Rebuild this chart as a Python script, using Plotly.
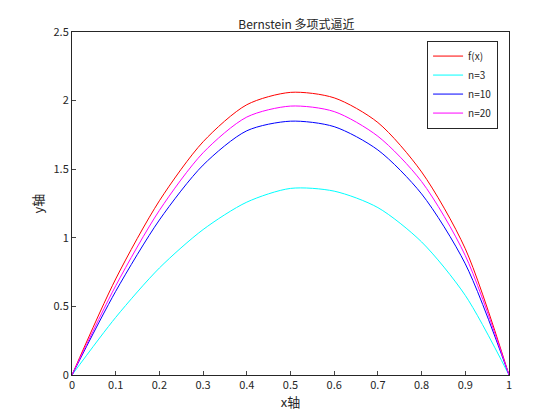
import plotly.graph_objects as go

x = [0, 0.1, 0.2, 0.3, 0.4, 0.5, 0.6, 0.7, 0.8, 0.9, 1.0]
f_x = [0, 0.70, 1.27, 1.70, 1.97, 2.06, 2.02, 1.84, 1.48, 0.92, 0]
n3 = [0, 0.42, 0.78, 1.06, 1.26, 1.36, 1.34, 1.22, 0.97, 0.58, 0]
n10 = [0, 0.61, 1.13, 1.53, 1.78, 1.85, 1.81, 1.64, 1.32, 0.81, 0]
n20 = [0, 0.65, 1.20, 1.62, 1.88, 1.96, 1.92, 1.74, 1.41, 0.87, 0]

series = [("f(x)", f_x, "red"), ("n=3", n3, "cyan"),
          ("n=10", n10, "blue"), ("n=20", n20, "magenta")]

fig = go.Figure()
for name, ys, c in series:
    fig.add_trace(go.Scatter(x=x, y=ys, name=name, mode="lines",
                             line=dict(color=c, width=1, shape="spline", smoothing=0.8)))

ax = dict(showline=True, linecolor="#262626", mirror=True, ticks="inside",
          ticklen=4, showgrid=False, zeroline=False, tickfont=dict(size=11))
fig.update_layout(
    width=560, height=420, paper_bgcolor="white", plot_bgcolor="white",
    font=dict(family="Noto Sans CJK SC, DejaVu Sans", size=11, color="#262626"),
    margin=dict(l=64, r=59, t=24, b=53),
    title=dict(text="Bernstein 多项式逼近", x=0.515, y=0.97, font=dict(size=12)),
    xaxis=dict(ax, range=[0, 1], dtick=0.1, title=dict(text="x轴", standoff=4)),
    yaxis=dict(ax, range=[0, 2.5], dtick=0.5, title=dict(text="y轴", standoff=6)),
    legend=dict(x=0.975, y=0.975, xanchor="right", yanchor="top",
                bordercolor="#262626", borderwidth=1, font=dict(size=10),
                bgcolor="white", tracegroupgap=0),
)
fig.write_html("out.html")
